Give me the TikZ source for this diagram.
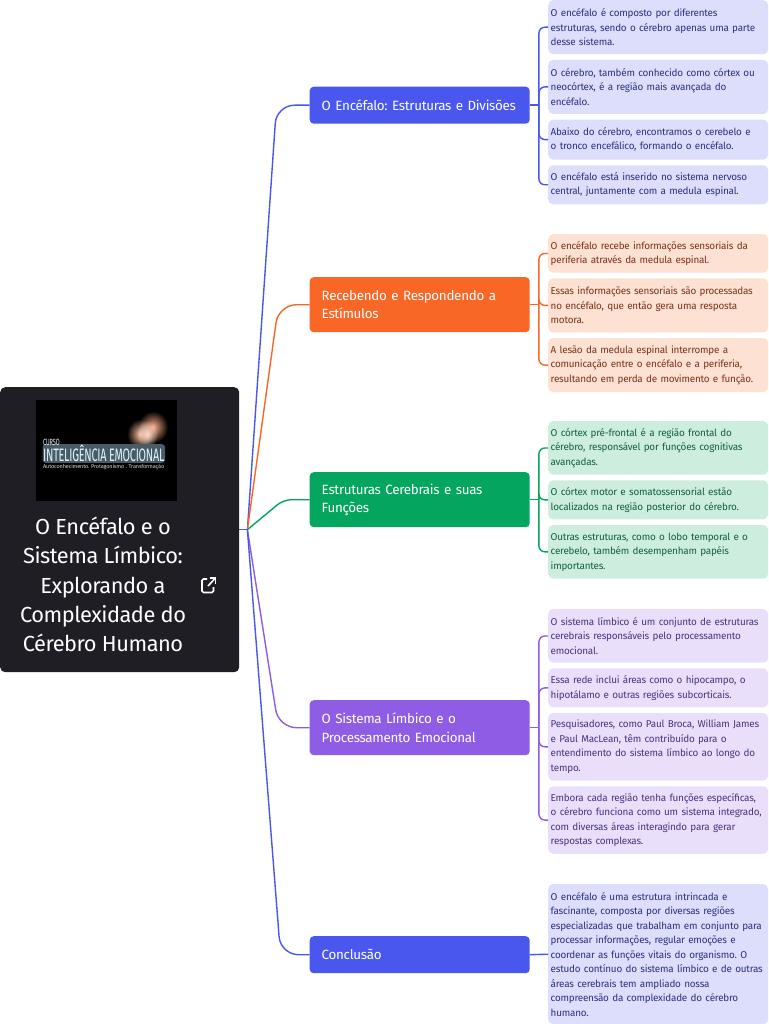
\documentclass[tikz,border=0pt]{standalone}
\usepackage{fontspec}
\setmainfont[LetterSpace=-2.2]{Fira Sans}
\usepackage{tikz}
\usetikzlibrary{positioning,shapes,calc,fadings}
\definecolor{rootdark}{HTML}{1E1E24}
\definecolor{brblue}{HTML}{4A57EE}
\definecolor{brorange}{HTML}{F96726}
\definecolor{brgreen}{HTML}{04A65F}
\definecolor{brpurple}{HTML}{8F5CE6}
\definecolor{lfblue}{HTML}{DCDEFB}
\definecolor{lforange}{HTML}{FDE1D3}
\definecolor{lfgreen}{HTML}{CDEEDF}
\definecolor{lfpurple}{HTML}{E9DFFA}
\definecolor{txblue}{HTML}{2E3180}
\definecolor{txorange}{HTML}{7A3518}
\definecolor{txgreen}{HTML}{14603F}
\definecolor{txpurple}{HTML}{4B3480}
\tikzfading[name=blobfade, inner color=transparent!0, outer color=transparent!100]
\tikzset{
    branchbox/.style={rectangle, rounded corners=4pt, anchor=north west, minimum width=220pt, text width=196pt, inner xsep=12pt, inner ysep=0pt, align=left, text=white, font=\frenchspacing\fontsize{13.4}{18.5}\selectfont},
    leafbox/.style={rectangle, rounded corners=5pt, minimum width=220pt, text width=215pt, inner xsep=2.5pt, inner ysep=0pt, align=left, font=\frenchspacing\fontsize{9.9}{14.5}\selectfont},
    link/.style={line width=1.4pt, rounded corners=6pt},
    trunk/.style={line width=1.4pt, rounded corners=18pt}
}
\begin{document}
\begin{tikzpicture}[x=1pt, y=-1pt, node distance=5.3pt]
    \useasboundingbox (0,0) rectangle (768,1024);
    \fill[white] (0,0) rectangle (768,1024);
    % root
    \node[rectangle, rounded corners=5pt, fill=rootdark, anchor=north west, minimum width=239pt, minimum height=285pt](root) at (0,387){};
    \node[rectangle, fill=black, anchor=north west, minimum width=141.5pt, minimum height=101pt, inner sep=0pt](logo) at (35.5,400){};
    \fill[brorange!55!white, path fading=blobfade] (153,427) ellipse (15pt and 16pt);
    \fill[brorange!45!white, path fading=blobfade] (140,434) ellipse (13pt and 15pt);
    \fill[brorange!25!white, path fading=blobfade] (147,434) ellipse (11pt and 14pt);
    \node[rectangle, rounded corners=3pt, fill=cyan!32!black, inner sep=1pt, anchor=west, xscale=0.6, text=cyan!12!white, font=\fontsize{18}{18}\selectfont](logotitle) at (42.5,453.5){INTELIGÊNCIA EMOCIONAL};
    \node[anchor=south west, inner sep=0pt, xscale=0.62, text=white, font=\fontsize{9}{9}\selectfont](logokicker) at (43,446){CURSO};
    \node[anchor=west, inner sep=0pt, text=white!85!black, font=\fontsize{5.5}{6}\selectfont](logotag) at (43,467){Autoconhecimento. Protagonismo . Transformação};
    \node[text=white, align=center, inner sep=0pt, font=\frenchspacing\fontsize{21.8}{29.4}\selectfont](roottitle) at (103,584.5){O Encéfalo e o\\Sistema Límbico:\\Explorando a\\Complexidade do\\Cérebro Humano};
    \draw[white, line width=1.6pt, rounded corners=1.5pt] (207,579) -- (202,579) -- (202,592.5) -- (213.5,592.5) -- (213.5,587);
    \draw[white, line width=1.6pt] (208,586) -- (215,578.5);
    \draw[white, line width=1.6pt] (209.5,578) -- (215.5,578) -- (215.5,584);

    % branches
    \node[branchbox, fill=brblue, minimum height=37pt](brencefalo) at (309.5,86.5){O Encéfalo: Estruturas e Divisões};
    \node[branchbox, fill=brorange, minimum height=55pt](brestimulos) at (309.5,277){Recebendo e Respondendo a\\Estímulos};
    \node[branchbox, fill=brgreen, minimum height=55pt](brfuncoes) at (309.5,472){Estruturas Cerebrais e suas\\Funções};
    \node[branchbox, fill=brpurple, minimum height=55pt](brlimbico) at (309.5,700){O Sistema Límbico e o\\Processamento Emocional};
    \node[branchbox, fill=brblue, minimum height=37pt](brconclusao) at (309.5,936){Conclusão};

    % leaves
    \node[leafbox, fill=lfblue, text=txblue, anchor=north west, minimum height=54pt](encone) at (548,0){O encéfalo é composto por diferentes\\estruturas, sendo o cérebro apenas uma parte\\desse sistema.};
    \node[leafbox, fill=lfblue, text=txblue, minimum height=54pt, below=of encone](enctwo){O cérebro, também conhecido como córtex ou\\neocórtex, é a região mais avançada do\\encéfalo.};
    \node[leafbox, fill=lfblue, text=txblue, minimum height=40pt, below=of enctwo](encthree){Abaixo do cérebro, encontramos o cerebelo e\\o tronco encefálico, formando o encéfalo.};
    \node[leafbox, fill=lfblue, text=txblue, minimum height=39pt, below=of encthree](encfour){O encéfalo está inserido no sistema nervoso\\central, juntamente com a medula espinal.};

    \node[leafbox, fill=lforange, text=txorange, anchor=north west, minimum height=38.5pt](estone) at (548,234){O encéfalo recebe informações sensoriais da\\periferia através da medula espinal.};
    \node[leafbox, fill=lforange, text=txorange, minimum height=54pt, below=of estone](esttwo){Essas informações sensoriais são processadas\\no encéfalo, que então gera uma resposta\\motora.};
    \node[leafbox, fill=lforange, text=txorange, minimum height=54pt, below=of esttwo](estthree){A lesão da medula espinal interrompe a\\comunicação entre o encéfalo e a periferia,\\resultando em perda de movimento e função.};

    \node[leafbox, fill=lfgreen, text=txgreen, anchor=north west, minimum height=53.5pt](funone) at (548,421){O córtex pré-frontal é a região frontal do\\cérebro, responsável por funções cognitivas\\avançadas.};
    \node[leafbox, fill=lfgreen, text=txgreen, minimum height=39pt, below=of funone](funtwo){O córtex motor e somatossensorial estão\\localizados na região posterior do cérebro.};
    \node[leafbox, fill=lfgreen, text=txgreen, minimum height=53.5pt, below=of funtwo](funthree){Outras estruturas, como o lobo temporal e o\\cerebelo, também desempenham papéis\\importantes.};

    \node[leafbox, fill=lfpurple, text=txpurple, anchor=north west, minimum height=53.5pt](limone) at (548,609){O sistema límbico é um conjunto de estruturas\\cerebrais responsáveis pelo processamento\\emocional.};
    \node[leafbox, fill=lfpurple, text=txpurple, minimum height=39pt, below=of limone](limtwo){Essa rede inclui áreas como o hipocampo, o\\hipotálamo e outras regiões subcorticais.};
    \node[leafbox, fill=lfpurple, text=txpurple, minimum height=67.5pt, below=of limtwo](limthree){Pesquisadores, como Paul Broca, William James\\e Paul MacLean, têm contribuído para o\\entendimento do sistema límbico ao longo do\\tempo.};
    \node[leafbox, fill=lfpurple, text=txpurple, minimum height=67.5pt, below=of limthree](limfour){Embora cada região tenha funções específicas,\\o cérebro funciona como um sistema integrado,\\com diversas áreas interagindo para gerar\\respostas complexas.};

    \node[leafbox, fill=lfblue, text=txblue, anchor=north west, minimum height=140pt](conone) at (548,884){O encéfalo é uma estrutura intrincada e\\fascinante, composta por diversas regiões\\especializadas que trabalham em conjunto para\\processar informações, regular emoções e\\coordenar as funções vitais do organismo. O\\estudo contínuo do sistema límbico e de outras\\áreas cerebrais tem ampliado nossa\\compreensão da complexidade do cérebro\\humano.};

    % trunks
    \coordinate[right=8pt of root.east](hub);
    \draw[trunk, brblue, rounded corners=0pt](root.east)--(hub);
    \draw[trunk, brblue](hub)--([xshift=-33pt]brencefalo.west)--(brencefalo.west);
    \draw[trunk, brorange](hub)--([xshift=-31pt]brestimulos.west)--(brestimulos.west);
    \draw[trunk, brgreen, rounded corners=8pt](hub)--([xshift=-26pt]brfuncoes.west)--(brfuncoes.west);
    \draw[trunk, brpurple](hub)--([xshift=-31pt]brlimbico.west)--(brlimbico.west);
    \draw[trunk, brblue](hub)--([xshift=-29pt]brconclusao.west)--(brconclusao.west);

    % twigs
    \coordinate[right=9pt of brencefalo.east](jencefalo);
    \draw[link, brblue, rounded corners=0pt](brencefalo.east)--(jencefalo);
    \draw[link, brblue](jencefalo)|-(encone.west);
    \draw[link, brblue](jencefalo)|-(enctwo.west);
    \draw[link, brblue](jencefalo)|-(encthree.west);
    \draw[link, brblue](jencefalo)|-(encfour.west);

    \coordinate[right=9pt of brestimulos.east](jestimulos);
    \draw[link, brorange, rounded corners=0pt](brestimulos.east)--(jestimulos);
    \draw[link, brorange](jestimulos)|-(estone.west);
    \draw[link, brorange](jestimulos)|-(esttwo.west);
    \draw[link, brorange](jestimulos)|-(estthree.west);

    \coordinate[right=9pt of brfuncoes.east](jfuncoes);
    \draw[link, brgreen, rounded corners=0pt](brfuncoes.east)--(jfuncoes);
    \draw[link, brgreen](jfuncoes)|-(funone.west);
    \draw[link, brgreen](jfuncoes)|-(funtwo.west);
    \draw[link, brgreen](jfuncoes)|-(funthree.west);

    \coordinate[right=9pt of brlimbico.east](jlimbico);
    \draw[link, brpurple, rounded corners=0pt](brlimbico.east)--(jlimbico);
    \draw[link, brpurple](jlimbico)|-(limone.west);
    \draw[link, brpurple](jlimbico)|-(limtwo.west);
    \draw[link, brpurple](jlimbico)|-(limthree.west);
    \draw[link, brpurple](jlimbico)|-(limfour.west);

    \draw[link, brblue](brconclusao.east)--(conone.west);
\end{tikzpicture}
\end{document}
